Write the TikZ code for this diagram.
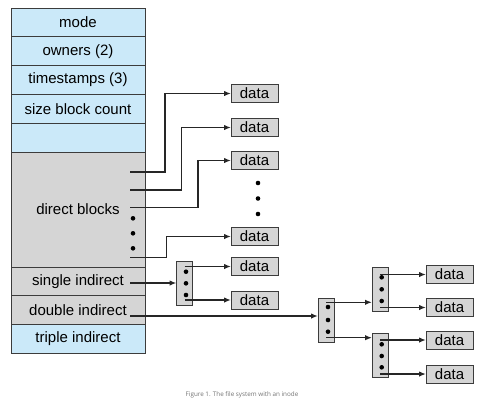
\documentclass[tikz,border=0pt]{standalone}
\usepackage{fontspec}
\setmainfont{Liberation Sans}
\newfontfamily\captionfont{Open Sans}
\usetikzlibrary{arrows.meta, positioning}
\definecolor{inodeblue}{HTML}{CBE9F9}
\definecolor{blockgray}{HTML}{D5D5D5}
\definecolor{edgegray}{HTML}{3C3C3C}

\begin{document}
\begin{tikzpicture}[
  x=1pt, y=-1pt,
  every node/.style={font=\fontsize{15}{18}\selectfont, inner sep=0pt, outer sep=0pt},
  field/.style={rectangle, draw=edgegray, line width=1pt, minimum width=134pt, minimum height=28.8pt},
  datablock/.style={rectangle, draw=edgegray, fill=blockgray, line width=1pt, minimum width=47pt, minimum height=18pt},
  indexblock/.style={rectangle, draw=edgegray, fill=blockgray, line width=1pt, minimum width=16pt, minimum height=44pt},
  ptr/.style={draw=black!85, line width=1.5pt, -{Latex[length=7pt,width=5.5pt]}},
  dot/.style={circle, fill=black, minimum size=4.6pt}
]
\useasboundingbox (0,0) rectangle (484,408);

% inode
\node[field, fill=inodeblue] (mode) at (78,22.4) {mode};
\node[field, fill=inodeblue, below=0pt of mode] (owners) {owners (2)};
\node[field, fill=inodeblue, below=0pt of owners] (stamps) {timestamps (3)};
\node[field, fill=inodeblue, below=0pt of stamps] (size) {size block count};
\node[field, fill=inodeblue, below=0pt of size] (spare) {};
\node[field, fill=blockgray, minimum height=115pt, below=0pt of spare] (direct) {direct blocks};
\node[field, fill=blockgray, below=0pt of direct] (single) {single indirect};
\node[field, fill=blockgray, below=0pt of single] (double) {double indirect};
\node[field, fill=inodeblue, below=0pt of double] (triple) {triple indirect};

% direct pointers
\coordinate (p1) at (130,172);
\coordinate (p2) at (130,190);
\coordinate (p3) at (130,207.5);
\coordinate (p4) at (130,257.5);
\foreach \y [count=\i] in {218.3,233.3,248.3}
  \node[dot] (pdot\i) at (133,\y) {};

% data blocks
\node[datablock] (d1) at (254.5,93.5) {data};
\node[datablock] (d2) at (254.5,127.5) {data};
\node[datablock] (d3) at (254.5,160.5) {data};
\node[datablock] (d4) at (254.5,236.5) {data};
\node[datablock] (d5) at (254.5,266.5) {data};
\node[datablock] (d6) at (254.5,300) {data};
\foreach \y [count=\i] in {183,198.5,214}
  \node[dot] (ddot\i) at (258,\y) {};

\draw[ptr] (p1) -- ++(35,0) |- (d1);
\draw[ptr] (p2) -- ++(51.7,0) |- (d2);
\draw[ptr] (p3) -- ++(68,0) |- (d3);
\draw[ptr] (p4) -- ++(36.7,0) |- (d4);

% single indirect
\node[indexblock] (si) at (184.5,283) {};
\foreach \y [count=\i] in {271.7,283.3,295}
  \node[dot] (sdot\i) at (186,\y) {};
\coordinate (ps) at (130,283);
\draw[ptr] (ps) -- (si);
\draw[ptr] (si.center |- d5) -- (d5);
\draw[ptr] (si.center |- d6) -- (d6);

% double indirect
\node[indexblock] (di) at (326,320) {};
\foreach \y [count=\i] in {307,320,331.7}
  \node[dot] (didot\i) at (328,\y) {};
\node[indexblock] (ia) at (380,289) {};
\foreach \y [count=\i] in {277.3,289.3,301}
  \node[dot] (iadot\i) at (381.7,\y) {};
\node[indexblock] (ib) at (380,355.7) {};
\foreach \y [count=\i] in {344.3,356,367.3}
  \node[dot] (ibdot\i) at (381.7,\y) {};

\node[datablock] (e1) at (449.5,274.5) {data};
\node[datablock] (e2) at (449.5,307.5) {data};
\node[datablock] (e3) at (449.5,340) {data};
\node[datablock] (e4) at (449.5,374) {data};

\coordinate (pd) at (130,316);
\coordinate (di1) at (326,302.3);
\coordinate (di2) at (326,337.7);
\draw[ptr] (pd) -- (pd -| di.west);
\draw[ptr] (di1) -- (di1 -| ia.west);
\draw[ptr] (di2) -- (di2 -| ib.west);
\draw[ptr] (ia.center |- e1) -- (e1);
\draw[ptr] (ia.center |- e2) -- (e2);
\draw[ptr] (ib.center |- e3) -- (e3);
\draw[ptr] (ib.center |- e4) -- (e4);

% caption
\node[font=\captionfont\fontsize{6.3}{7.5}\selectfont, text=black!55] (caption) at (242,395) {Figure 1. The file system with an inode};
\end{tikzpicture}
\end{document}
